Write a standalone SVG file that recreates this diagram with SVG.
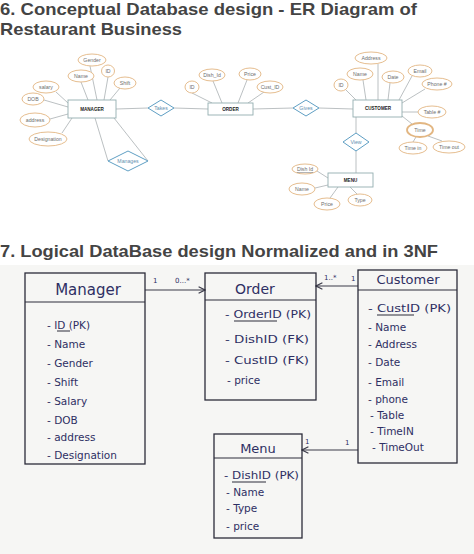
<svg xmlns="http://www.w3.org/2000/svg" width="474" height="554" viewBox="0 0 474 554">
<defs>
<style>
.title{font-family:"Liberation Sans",Arial,sans-serif;font-weight:bold;font-size:17px;fill:#444444}
.att ellipse{fill:#ffffff;stroke:#e2b682;stroke-width:0.9}
.att text{font-family:"Liberation Sans",Arial,sans-serif;font-size:5.2px;fill:#6e6e6e;text-anchor:middle}
.rel polygon{fill:#ffffff;stroke:#5f9fc4;stroke-width:1}
.rel text{font-family:"Liberation Sans",Arial,sans-serif;font-size:5.2px;fill:#5f8fb0;text-anchor:middle}
.ent rect{fill:#ffffff;stroke:#93aeb0;stroke-width:0.9}
.ent text{font-family:"Liberation Sans",Arial,sans-serif;font-size:4.6px;font-weight:bold;fill:#222222;text-anchor:middle}
.erl line{stroke:#a9b0b2;stroke-width:0.8}
.box rect{fill:none;stroke:#2c2c3a;stroke-width:1.3}
.box line{stroke:#2c2c3a;stroke-width:1}
.hd{font-family:"DejaVu Sans",sans-serif;fill:#2e2f63;text-anchor:middle}
.it{font-family:"DejaVu Sans",sans-serif;font-size:10.5px;fill:#2e2f63}
.ul{stroke:#2e2f63;stroke-width:0.9}
.conn line{stroke:#3a3a48;stroke-width:1}
.card{font-family:"DejaVu Sans",sans-serif;font-size:7px;fill:#2e2f63}
</style>
<marker id="arr" viewBox="0 0 10 10" refX="9" refY="5" markerWidth="8" markerHeight="8" orient="auto" markerUnits="userSpaceOnUse">
<polyline points="1,1 9,5 1,9" fill="none" stroke="#3a3a48" stroke-width="1.4"/>
</marker>
</defs>
<rect x="0" y="0" width="474" height="554" fill="#ffffff"/>
<rect x="0" y="265" width="474" height="289" fill="#f6f6f4"/>

<text class="title" x="0" y="15" font-size="16.5" textLength="417" lengthAdjust="spacingAndGlyphs">6. Conceptual Database design - ER Diagram of</text>
<text class="title" x="0" y="35" textLength="182" lengthAdjust="spacingAndGlyphs">Restaurant Business</text>
<text class="title" x="0" y="257" textLength="438" lengthAdjust="spacingAndGlyphs">7. Logical DataBase design Normalized and in 3NF</text>

<!-- ER connectors -->
<g id="er-connectors" class="erl">
<line x1="90" y1="66" x2="97" y2="100"/>
<line x1="81" y1="82" x2="88" y2="100"/>
<line x1="108" y1="77" x2="104" y2="100"/>
<line x1="120" y1="88" x2="110" y2="100"/>
<line x1="56" y1="92" x2="68" y2="103"/>
<line x1="44" y1="100" x2="68" y2="107"/>
<line x1="50" y1="119" x2="68" y2="114"/>
<line x1="62" y1="133" x2="72" y2="118"/>
<line x1="116" y1="109" x2="148" y2="108"/>
<line x1="174" y1="108" x2="208" y2="109"/>
<line x1="95" y1="118" x2="108" y2="161"/>
<line x1="114" y1="118" x2="148" y2="161"/>
<line x1="192" y1="93" x2="212" y2="103"/>
<line x1="213" y1="81" x2="222" y2="103"/>
<line x1="247" y1="80" x2="238" y2="103"/>
<line x1="264" y1="92" x2="248" y2="103"/>
<line x1="253" y1="109" x2="293" y2="108"/>
<line x1="319" y1="108" x2="353" y2="109"/>
<line x1="378" y1="64" x2="378" y2="100"/>
<line x1="363" y1="80" x2="366" y2="100"/>
<line x1="346" y1="90" x2="356" y2="100"/>
<line x1="390" y1="83" x2="388" y2="100"/>
<line x1="412" y1="76" x2="399" y2="100"/>
<line x1="425" y1="89" x2="402" y2="103"/>
<line x1="418" y1="112" x2="402" y2="112"/>
<line x1="402" y1="116" x2="412" y2="124"/>
<line x1="416" y1="137" x2="413" y2="142"/>
<line x1="428" y1="136" x2="442" y2="141"/>
<line x1="356" y1="117" x2="356" y2="133"/>
<line x1="356" y1="151" x2="356" y2="173"/>
<line x1="317" y1="171" x2="328" y2="178"/>
<line x1="315" y1="188" x2="328" y2="185"/>
<line x1="330" y1="198" x2="338" y2="187"/>
<line x1="357" y1="194" x2="350" y2="187"/>
</g>

<!-- ER entities -->
<g id="manager-entity" class="ent"><rect x="68" y="100" width="48" height="18"/><text x="92" y="110.5">MANAGER</text></g>
<g id="order-entity" class="ent"><rect x="208" y="103" width="45" height="12"/><text x="230.5" y="110.5">ORDER</text></g>
<g id="customer-entity" class="ent"><rect x="353" y="100" width="49" height="17"/><text x="378" y="110">CUSTOMER</text></g>
<g id="menu-entity" class="ent"><rect x="328" y="173" width="45" height="14"/><text x="350.5" y="181.5">MENU</text></g>

<!-- ER relationships -->
<g id="rel-takes" class="rel"><polygon points="148,108 161,100 174,108 161,116"/><text x="161" y="110">Takes</text></g>
<g id="rel-manages" class="rel"><polygon points="108,161 128,151 148,161 128,171"/><text x="128" y="163">Manages</text></g>
<g id="rel-gives" class="rel"><polygon points="293,108 306,100 319,108 306,116"/><text x="306" y="110">Gives</text></g>
<g id="rel-view" class="rel"><polygon points="343,142 356,133 369,142 356,151"/><text x="356" y="144">View</text></g>

<!-- ER attributes -->
<g id="att-m-gender" class="att"><ellipse cx="92" cy="60" rx="14" ry="6"/><text x="92" y="62">Gender</text></g>
<g id="att-m-name" class="att"><ellipse cx="81" cy="76" rx="13" ry="6"/><text x="81" y="78">Name</text></g>
<g id="att-m-id" class="att"><ellipse cx="108" cy="71" rx="6.5" ry="6"/><text x="108" y="73">ID</text></g>
<g id="att-m-shift" class="att"><ellipse cx="125" cy="83" rx="11" ry="6"/><text x="125" y="85">Shift</text></g>
<g id="att-m-salary" class="att"><ellipse cx="46" cy="87" rx="13" ry="6"/><text x="46" y="89">salary</text></g>
<g id="att-m-dob" class="att"><ellipse cx="33" cy="99" rx="11" ry="6"/><text x="33" y="101">DOB</text></g>
<g id="att-m-address" class="att"><ellipse cx="35" cy="120" rx="15" ry="7"/><text x="35" y="122">address</text></g>
<g id="att-m-designation" class="att"><ellipse cx="48" cy="139" rx="19" ry="7"/><text x="48" y="141">Designation</text></g>

<g id="att-o-id" class="att"><ellipse cx="192" cy="87" rx="7" ry="6"/><text x="192" y="89">ID</text></g>
<g id="att-o-dishid" class="att"><ellipse cx="212" cy="75" rx="13" ry="6"/><text x="212" y="77">Dish_Id</text></g>
<g id="att-o-price" class="att"><ellipse cx="250" cy="74" rx="11" ry="6"/><text x="250" y="76">Price</text></g>
<g id="att-o-custid" class="att"><ellipse cx="270" cy="87" rx="13" ry="6"/><text x="270" y="89">Cust_ID</text></g>

<g id="att-c-address" class="att"><ellipse cx="371" cy="58" rx="16" ry="6"/><text x="371" y="60">Address</text></g>
<g id="att-c-name" class="att"><ellipse cx="360" cy="74" rx="13" ry="6"/><text x="360" y="76">Name</text></g>
<g id="att-c-id" class="att"><ellipse cx="341" cy="85" rx="7" ry="6"/><text x="341" y="87">ID</text></g>
<g id="att-c-date" class="att"><ellipse cx="393" cy="77" rx="11" ry="6"/><text x="393" y="79">Date</text></g>
<g id="att-c-email" class="att"><ellipse cx="420" cy="71" rx="12" ry="6"/><text x="420" y="73">Email</text></g>
<g id="att-c-phone" class="att"><ellipse cx="437" cy="84" rx="15" ry="6"/><text x="437" y="86">Phone #</text></g>
<g id="att-c-table" class="att"><ellipse cx="432" cy="112" rx="14" ry="6"/><text x="432" y="114">Table #</text></g>
<g id="att-c-time" class="att"><ellipse cx="420" cy="130" rx="13" ry="7" style="stroke-width:1.8"/><text x="420" y="132">Time</text></g>
<g id="att-c-timein" class="att"><ellipse cx="413" cy="148" rx="14" ry="6"/><text x="413" y="150">Time in</text></g>
<g id="att-c-timeout" class="att"><ellipse cx="449" cy="147" rx="16" ry="6"/><text x="449" y="149">Time out</text></g>

<g id="att-mn-dishid" class="att"><ellipse cx="305" cy="169" rx="13" ry="5"/><text x="305" y="171" style="text-decoration:underline">Dish Id</text></g>
<g id="att-mn-name" class="att"><ellipse cx="302" cy="189" rx="13" ry="6"/><text x="302" y="191">Name</text></g>
<g id="att-mn-price" class="att"><ellipse cx="327" cy="204" rx="13" ry="6"/><text x="327" y="206">Price</text></g>
<g id="att-mn-type" class="att"><ellipse cx="360" cy="200" rx="12" ry="6"/><text x="360" y="202">Type</text></g>

<!-- Logical design connectors -->
<g id="logical-connectors" class="conn">
<line x1="145" y1="290" x2="205" y2="290" marker-end="url(#arr)"/>
<line x1="358" y1="286" x2="316" y2="286" marker-end="url(#arr)"/>
<line x1="358" y1="450" x2="302" y2="450" marker-end="url(#arr)"/>
<text class="card" x="153" y="283">1</text>
<text class="card" x="175" y="283">0...*</text>
<text class="card" x="324" y="280">1..*</text>
<text class="card" x="351" y="281">1</text>
<text class="card" x="345" y="445">1</text>
<text class="card" x="305" y="444">1</text>
</g>

<g id="tbl-manager" class="box">
<rect x="25" y="273" width="120" height="191"/>
<line x1="25" y1="302" x2="145" y2="302"/>
<text class="hd" x="88" y="295" font-size="15">Manager</text>
<text class="it" x="47" y="329">- ID (PK)</text>
<line class="ul" x1="57" y1="331" x2="70" y2="331"/>
<text class="it" x="47" y="348">- Name</text>
<text class="it" x="47" y="367">- Gender</text>
<text class="it" x="47" y="386">- Shift</text>
<text class="it" x="47" y="405">- Salary</text>
<text class="it" x="47" y="424">- DOB</text>
<text class="it" x="47" y="441">- address</text>
<text class="it" x="47" y="459">- Designation</text>
</g>

<g id="tbl-order" class="box">
<rect x="205" y="273" width="111" height="127"/>
<line x1="205" y1="300" x2="316" y2="300"/>
<text class="hd" x="255" y="294" font-size="14">Order</text>
<text class="it" x="225" y="318" textLength="86" lengthAdjust="spacingAndGlyphs">- OrderID (PK)</text>
<line class="ul" x1="234" y1="321" x2="277" y2="321"/>
<text class="it" x="225" y="343" textLength="84" lengthAdjust="spacingAndGlyphs">- DishID (FK)</text>
<text class="it" x="225" y="364" textLength="84" lengthAdjust="spacingAndGlyphs">- CustID (FK)</text>
<text class="it" x="227" y="384">- price</text>
</g>

<g id="tbl-customer" class="box">
<rect x="358" y="270" width="99" height="193"/>
<line x1="358" y1="290" x2="457" y2="290"/>
<text class="hd" x="408" y="284" font-size="13">Customer</text>
<text class="it" x="368" y="312" textLength="83" lengthAdjust="spacingAndGlyphs">- CustID (PK)</text>
<line class="ul" x1="377" y1="315" x2="414" y2="315"/>
<text class="it" x="368" y="331">- Name</text>
<text class="it" x="368" y="348">- Address</text>
<text class="it" x="368" y="366">- Date</text>
<text class="it" x="368" y="386">- Email</text>
<text class="it" x="368" y="403">- phone</text>
<text class="it" x="370" y="419">- Table</text>
<text class="it" x="370" y="435">- TimeIN</text>
<text class="it" x="372" y="451">- TimeOut</text>
</g>

<g id="tbl-menu" class="box">
<rect x="214" y="434" width="88" height="104"/>
<line x1="214" y1="458" x2="302" y2="458"/>
<text class="hd" x="258" y="453" font-size="13">Menu</text>
<text class="it" x="224" y="479" textLength="75" lengthAdjust="spacingAndGlyphs">- DishID (PK)</text>
<line class="ul" x1="232" y1="482" x2="266" y2="482"/>
<text class="it" x="226" y="496">- Name</text>
<text class="it" x="226" y="512">- Type</text>
<text class="it" x="226" y="530">- price</text>
</g>
</svg>
